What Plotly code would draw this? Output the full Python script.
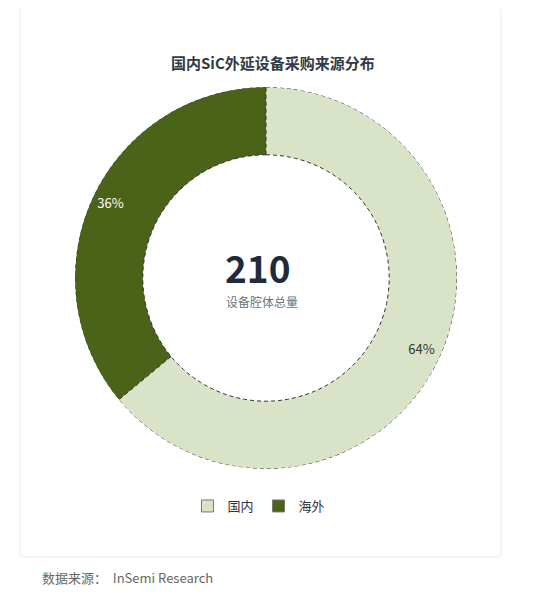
import plotly.graph_objects as go

# ---- data ----
title_text = "国内SiC外延设备采购来源分布"
categories = ["国内", "海外"]
values = [64, 36]
colors = ["#d8e3c7", "#4a6319"]
label_colors = ["#333333", "#ffffff"]
center_value = "210"
center_label = "设备腔体总量"
source_text = "数据来源：  InSemi Research"

OFF = 8  # page body margin
W, H = 555 - OFF, 598 - OFF
FONT = "Noto Sans CJK SC, Noto Sans, sans-serif"


def px(x):
    return (x - OFF) / W


def py(y):
    return 1 - (y - OFF) / H


# donut placement (pixels in final picture)
cx, cy, R = 266, 278, 191
hole = 0.645
dom_x = [px(cx - R), px(cx + R)]
dom_y = [py(cy + R), py(cy - R)]

total = sum(values)
cum = [0]
for v in values:
    cum.append(cum[-1] + v)
angles = [c / total * 360 for c in cum]
widths = [v / total * 360 for v in values]
mids = [(angles[i] + angles[i + 1]) / 2 for i in range(len(values))]
pct = [f"{round(v / total * 100)}%" for v in values]

fig = go.Figure()

# ring slices (no solid outline; dashed outline drawn below)
for i, name in enumerate(categories):
    fig.add_trace(go.Barpolar(
        name=name, r=[1 - hole], base=[hole], theta=[mids[i]], width=[widths[i]],
        marker=dict(color=colors[i], line=dict(color=colors[i], width=0)),
        hovertemplate=f"{name}: {pct[i]}<extra></extra>", showlegend=False,
    ))
# legend entries with grey border
for i, name in enumerate(categories):
    fig.add_trace(go.Barpolar(
        name=name, r=[0], base=[0], theta=[mids[i]], width=[0.001],
        marker=dict(color=colors[i], line=dict(color="#777777", width=1)),
        hoverinfo="skip", showlegend=True,
    ))

line_style = dict(color="#333333", width=1, dash="4px,3px")
circle_theta = [i for i in range(0, 361, 2)]
fig.add_trace(go.Scatterpolar(r=[1] * len(circle_theta), theta=circle_theta, mode="lines",
                              line=line_style, showlegend=False, hoverinfo="skip"))
fig.add_trace(go.Scatterpolar(r=[hole] * len(circle_theta), theta=circle_theta, mode="lines",
                              line=line_style, showlegend=False, hoverinfo="skip"))
for a in angles[:-1]:
    fig.add_trace(go.Scatterpolar(r=[hole, 1], theta=[a, a], mode="lines",
                                  line=line_style, showlegend=False, hoverinfo="skip"))

fig.add_trace(go.Scatterpolar(r=[0.9] * len(values), theta=mids, mode="text", text=pct,
                              textfont=dict(size=13, color=label_colors, family=FONT),
                              showlegend=False, hoverinfo="skip"))

fig.update_layout(
    width=W, height=H,
    margin=dict(l=0, r=0, t=0, b=0),
    paper_bgcolor="white",
    polar=dict(
        domain=dict(x=dom_x, y=dom_y),
        bgcolor="rgba(0,0,0,0)",
        radialaxis=dict(visible=False, range=[0, 1]),
        angularaxis=dict(visible=False, direction="clockwise", rotation=90),
        bargap=0,
    ),
    showlegend=True,
    legend=dict(orientation="h", x=px(259), xanchor="center", y=py(506), yanchor="middle",
                font=dict(size=13, color="#333333", family=FONT), itemwidth=30,
                bgcolor="rgba(0,0,0,0)"),
    font=dict(family=FONT),
)

# card
x0, x1 = px(20), px(501)
y0, y1 = py(557), py(6)
rx, ry = 4 / W, 4 / H
path = (f"M {x0+rx},{y1} L {x1-rx},{y1} Q {x1},{y1} {x1},{y1-ry} L {x1},{y0+ry} "
        f"Q {x1},{y0} {x1-rx},{y0} L {x0+rx},{y0} Q {x0},{y0} {x0},{y0+ry} "
        f"L {x0},{y1-ry} Q {x0},{y1} {x0+rx},{y1} Z")
fig.add_shape(type="path", path=path, xref="paper", yref="paper",
              line=dict(color="#ebebeb", width=1), fillcolor="rgba(0,0,0,0)", layer="below")

common = dict(xref="paper", yref="paper", showarrow=False, yanchor="middle")
fig.add_annotation(text=f"<b>{title_text}</b>", x=px(273), y=py(62), xanchor="center",
                   font=dict(size=15, color="#333a45", family=FONT), **common)
fig.add_annotation(text=f"<b>{center_value}</b>", x=px(258), y=py(267), xanchor="center",
                   font=dict(size=37, color="#1f2a3a", family=FONT), **common)
fig.add_annotation(text=center_label, x=px(262), y=py(301), xanchor="center",
                   font=dict(size=12, color="#6b7280", family=FONT), **common)
fig.add_annotation(text=source_text, x=px(40), y=py(577), xanchor="left",
                   font=dict(size=13, color="#666666", family=FONT), **common)

fig.write_html("out.html")
